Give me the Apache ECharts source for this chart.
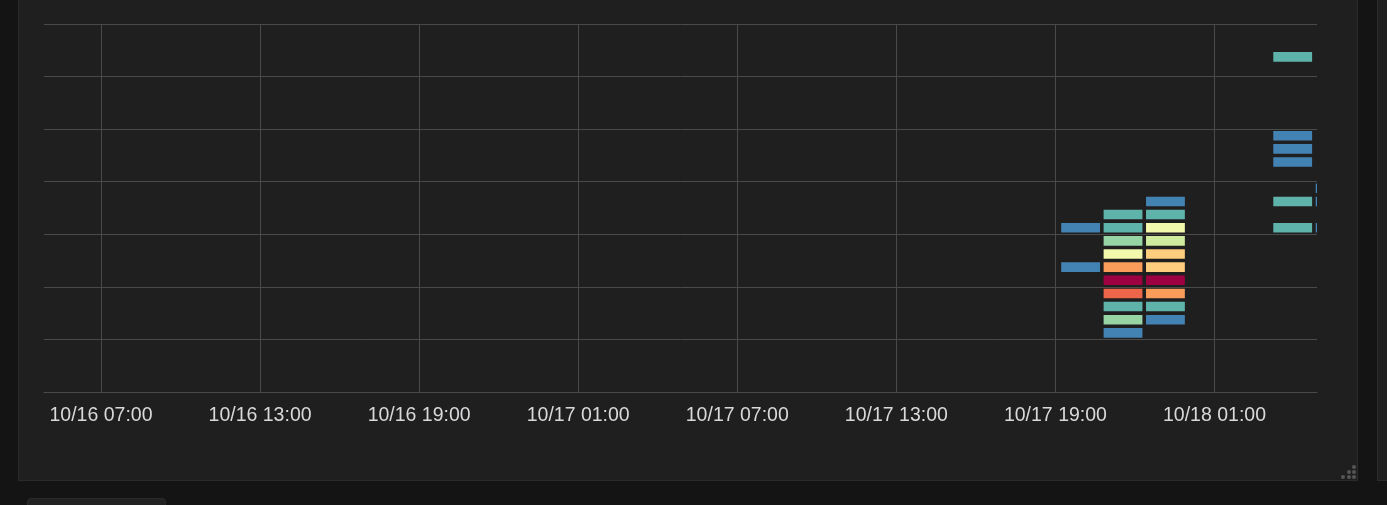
<!DOCTYPE html>
<html>
<head>
<meta charset="utf-8">
<script src="https://cdn.jsdelivr.net/npm/echarts@6/dist/echarts.min.js"></script>
<style>
  html, body { margin: 0; padding: 0; }
  body { width: 1387px; height: 505px; overflow: hidden; position: relative; background: #141414; font-family: "Liberation Sans", Arial, sans-serif; }
  .panel { position: absolute; background: #201f20; border: 1px solid #2b2b2b; box-sizing: border-box; }
  .dot { position: absolute; width: 4px; height: 4px; border-radius: 2px; background: #555; }
  #chart { position: absolute; left: 0; top: 0; width: 1387px; height: 505px; }
</style>
</head>
<body>
<div class="panel" style="left:18px;top:-20px;width:1340px;height:501px;"></div>
<div class="panel" style="left:1377px;top:-20px;width:40px;height:501px;"></div>
<div class="panel" style="left:27px;top:498px;width:139px;height:20px;border-radius:4px;background:#222;"></div>
<div class="dot" style="left:1352px;top:465px;"></div>
<div class="dot" style="left:1347px;top:470px;"></div>
<div class="dot" style="left:1352px;top:470px;"></div>
<div class="dot" style="left:1341px;top:475px;"></div>
<div class="dot" style="left:1347px;top:475px;"></div>
<div class="dot" style="left:1352px;top:475px;"></div>
<div id="chart"></div>
<script>
// ---- data ----
// time axis range (local time)
const axisStart = [2023, 9, 16, 4, 51];
const axisEnd = [2023, 9, 18, 4, 52];
// x tick labels (every 6 hours)
const tickTimes = [
  [2023, 9, 16, 7, 0], [2023, 9, 16, 13, 0], [2023, 9, 16, 19, 0], [2023, 9, 17, 1, 0],
  [2023, 9, 17, 7, 0], [2023, 9, 17, 13, 0], [2023, 9, 17, 19, 0], [2023, 9, 18, 1, 0]
];
// heatmap x buckets (start time), bucket size in minutes
const bucketMinutes = 96;
const bucketStarts = [
  [2023, 9, 17, 19, 9], [2023, 9, 17, 20, 45], [2023, 9, 17, 22, 21],
  [2023, 9, 18, 3, 9], [2023, 9, 18, 4, 45]
];
// y bucket index (0 = bottom) for each cell in each column
const cellRows = [
  [12, 9],
  [13, 12, 11, 10, 9, 8, 7, 6, 5, 4],
  [14, 13, 12, 11, 10, 9, 8, 7, 6, 5],
  [25, 19, 18, 17, 14, 12],
  [15, 14, 12]
];
// count in each cell
const cellCounts = [
  [1, 1],
  [2, 2, 3, 5, 8, 11, 9, 2, 3, 1],
  [1, 2, 5, 4, 7, 7, 11, 8, 2, 1],
  [2, 1, 1, 1, 2, 2],
  [1, 1, 1]
];
const yBuckets = 28;
const maxCount = 11;
// Spectral scheme knots (t = 0 .. 1)
const spectral = ['#9e0142', '#d53e4f', '#f46d43', '#fdae61', '#fee08b', '#ffffbf',
                  '#e6f598', '#abdda4', '#66c2a5', '#3288bd', '#5e4fa2'];

// ---- colour ramp (basis spline like d3.interpolateSpectral), high count -> t = 0 ----
function hexToRgb(h) { return [1, 3, 5].map(i => parseInt(h.substr(i, 2), 16)); }
function basisRamp(colors) {
  const ch = [0, 1, 2].map(k => colors.map(c => hexToRgb(c)[k]));
  const n = colors.length - 1;
  function basis(t1, v0, v1, v2, v3) {
    const t2 = t1 * t1, t3 = t2 * t1;
    return ((1 - 3 * t1 + 3 * t2 - t3) * v0 + (4 - 6 * t2 + 3 * t3) * v1 +
            (1 + 3 * t1 + 3 * t2 - 3 * t3) * v2 + t3 * v3) / 6;
  }
  return function (t) {
    return ch.map(values => {
      let i;
      if (t <= 0) { t = 0; i = 0; } else if (t >= 1) { t = 1; i = n - 1; } else i = Math.floor(t * n);
      const v1 = values[i], v2 = values[i + 1];
      const v0 = i > 0 ? values[i - 1] : 2 * v1 - v2;
      const v3 = i < n - 1 ? values[i + 2] : 2 * v2 - v1;
      return Math.max(0, Math.min(255, Math.round(basis((t - i / n) * n, v0, v1, v2, v3))));
    });
  };
}
const ramp = basisRamp(spectral);
const rampStops = [];
for (let k = 0; k <= 60; k++) {
  const c = ramp(1 - k / 60);
  rampStops.push('rgb(' + c.join(',') + ')');
}

// ---- build ----
const toTs = a => new Date(a[0], a[1], a[2], a[3], a[4]).getTime();
const bucketMs = bucketMinutes * 60 * 1000;
const data = [];
bucketStarts.forEach((b, i) => {
  cellRows[i].forEach((r, j) => data.push([toTs(b), r, cellCounts[i][j]]));
});
const pad2 = n => (n < 10 ? '0' : '') + n;
function fmt(v) {
  const d = new Date(v);
  return pad2(d.getMonth() + 1) + '/' + pad2(d.getDate()) + ' ' + pad2(d.getHours()) + ':' + pad2(d.getMinutes());
}
const tickValues = tickTimes.map(toTs);

function renderItem(params, api) {
  const t = api.value(0), r = api.value(1);
  const p0 = api.coord([t, r + 1]);
  const p1 = api.coord([t + bucketMs, r]);
  const padX = 1.8, padY = 1.8;
  const rect = {
    x: p0[0] + padX, y: p0[1] + padY,
    width: p1[0] - p0[0] - 2 * padX, height: p1[1] - p0[1] - 2 * padY
  };
  const cs = params.coordSys;
  const clipped = echarts.graphic.clipRectByRect(rect, { x: cs.x, y: cs.y, width: cs.width, height: cs.height });
  if (!clipped) return;
  return { type: 'rect', shape: clipped, style: { fill: api.visual('color') } };
}

const chart = echarts.init(document.getElementById('chart'), null, { renderer: 'canvas' });
chart.setOption({
  backgroundColor: 'transparent',
  animation: false,
  grid: { left: 44, top: 24, right: 70, bottom: 113, containLabel: false },
  xAxis: {
    type: 'value',
    min: toTs(axisStart),
    max: toTs(axisEnd),
    axisLine: { show: true, lineStyle: { color: '#4a4a4a', width: 1 } },
    axisTick: { show: false, customValues: tickValues },
    splitLine: { show: true, lineStyle: { color: '#4a4a4a', width: 1 } },
    axisLabel: {
      customValues: tickValues,
      formatter: v => fmt(v),
      color: '#d8d9da',
      fontSize: 19.5,
      fontFamily: 'Liberation Sans, Arial, sans-serif',
      margin: 14,
      hideOverlap: false,
      showMinLabel: true,
      showMaxLabel: true
    }
  },
  yAxis: {
    type: 'value',
    min: 0,
    max: yBuckets,
    interval: 4,
    axisLine: { show: false },
    axisTick: { show: false },
    axisLabel: { show: false },
    splitLine: { show: true, lineStyle: { color: '#4a4a4a', width: 1 } }
  },
  visualMap: {
    show: false,
    type: 'continuous',
    min: 0,
    max: maxCount,
    dimension: 2,
    seriesIndex: 0,
    inRange: { color: rampStops }
  },
  series: [{
    type: 'custom',
    renderItem: renderItem,
    encode: { x: 0, y: 1 },
    data: data,
    clip: true
  }]
});
</script>
</body>
</html>
